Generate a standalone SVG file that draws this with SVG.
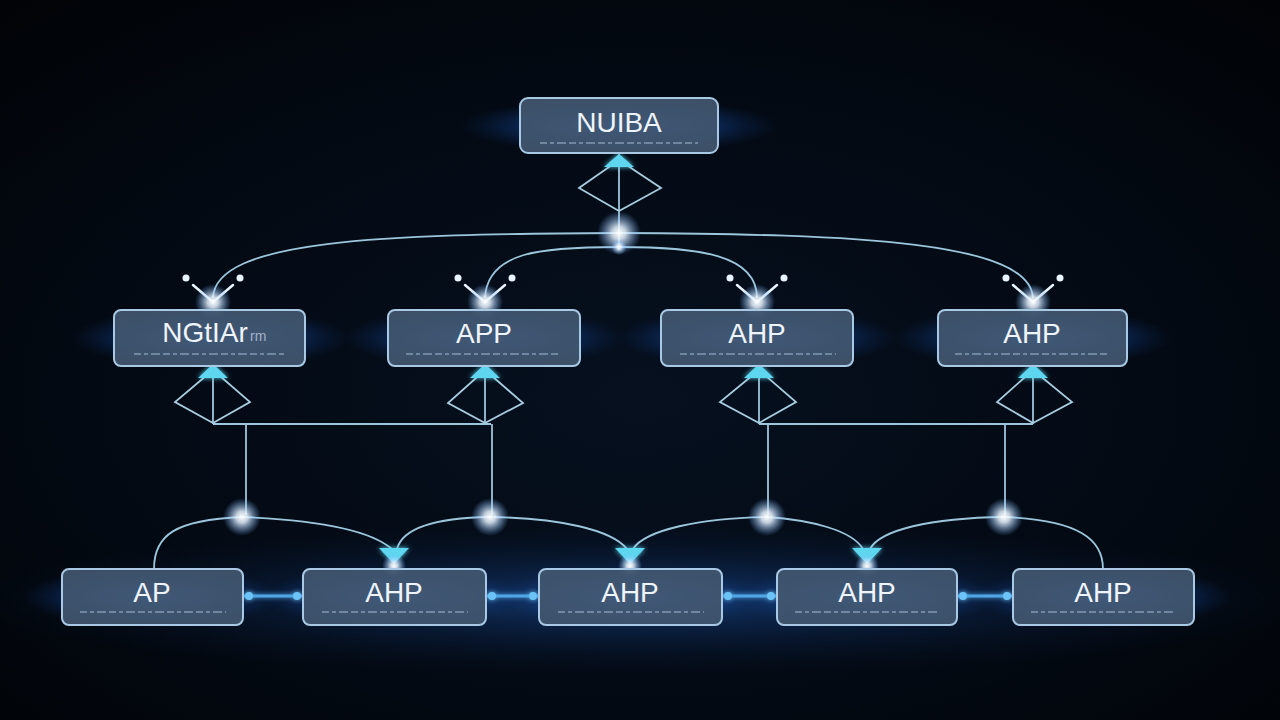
<svg xmlns="http://www.w3.org/2000/svg" width="1280" height="720" viewBox="0 0 1280 720">
<defs>
  <radialGradient id="bg" cx="50%" cy="55%" r="75%">
    <stop offset="0" stop-color="#06101f"/>
    <stop offset="0.6" stop-color="#030912"/>
    <stop offset="1" stop-color="#010306"/>
  </radialGradient>
  <radialGradient id="horizon" cx="50%" cy="50%" r="50%">
    <stop offset="0" stop-color="#1d56aa" stop-opacity="0.6"/>
    <stop offset="1" stop-color="#0a1f45" stop-opacity="0"/>
  </radialGradient>
  <radialGradient id="flare" cx="50%" cy="50%" r="50%">
    <stop offset="0" stop-color="#ffffff" stop-opacity="1"/>
    <stop offset="0.3" stop-color="#e6f3ff" stop-opacity="0.85"/>
    <stop offset="1" stop-color="#6fb0ff" stop-opacity="0"/>
  </radialGradient>
  <radialGradient id="sideglow" cx="50%" cy="50%" r="50%">
    <stop offset="0" stop-color="#3a8cf0" stop-opacity="0.95"/>
    <stop offset="0.5" stop-color="#1d5fc8" stop-opacity="0.45"/>
    <stop offset="1" stop-color="#0d3a8a" stop-opacity="0"/>
  </radialGradient>
  <filter id="glow" x="-50%" y="-50%" width="200%" height="200%">
    <feGaussianBlur stdDeviation="2.5" result="b"/>
    <feMerge><feMergeNode in="b"/><feMergeNode in="SourceGraphic"/></feMerge>
  </filter>
  <style>
    .node{fill:#42566f;fill-opacity:0.93;stroke:#a8c8e4;stroke-width:2}
    .lbl{font-family:"Liberation Sans","DejaVu Sans",sans-serif;font-size:28px;fill:#eef4fb;text-anchor:middle}
    .sub{stroke:#9cb4cc;stroke-width:2;stroke-dasharray:7 3 4 3 9 3;opacity:0.55}
    .wire{fill:none;stroke:#9cc6dc;stroke-width:1.8}
    .dia{fill:none;stroke:#a9cde0;stroke-width:1.8}
    .tri{fill:#5ed6f0}
    .vee{stroke:#e8f4ff;stroke-width:2.5;stroke-linecap:round}
    .dot{fill:#e8f4ff}
    .link{stroke:#4fa6e8;stroke-width:3}
    .ldot{fill:#6cc3f5}
  </style>
</defs>

<rect width="1280" height="720" fill="url(#bg)"/>
<ellipse cx="640" cy="600" rx="680" ry="75" fill="url(#horizon)"/>

<!-- side glows -->
<g id="glows">
  <ellipse cx="619" cy="126" rx="160" ry="28" fill="url(#sideglow)"/>
  <ellipse cx="210" cy="338" rx="140" ry="30" fill="url(#sideglow)"/>
  <ellipse cx="484" cy="338" rx="140" ry="30" fill="url(#sideglow)"/>
  <ellipse cx="757" cy="338" rx="140" ry="30" fill="url(#sideglow)"/>
  <ellipse cx="1033" cy="338" rx="140" ry="30" fill="url(#sideglow)"/>
  <ellipse cx="152" cy="597" rx="130" ry="30" fill="url(#sideglow)"/>
  <ellipse cx="394" cy="597" rx="130" ry="30" fill="url(#sideglow)"/>
  <ellipse cx="630" cy="597" rx="130" ry="30" fill="url(#sideglow)"/>
  <ellipse cx="867" cy="597" rx="130" ry="30" fill="url(#sideglow)"/>
  <ellipse cx="1103" cy="597" rx="130" ry="30" fill="url(#sideglow)"/>
</g>

<g id="connectors">
  <!-- top -->
  <line class="wire" x1="619" y1="153" x2="619" y2="250"/>
  <path class="dia" d="M619,160 L661,188 L619,211 L579,188 Z"/>
  <path class="wire" d="M619,233 C380,234 215,240 213,298"/>
  <path class="wire" d="M619,233 C860,234 1030,242 1033,298"/>
  <path class="wire" d="M619,247 C540,247 487,252 485,298"/>
  <path class="wire" d="M619,247 C700,247 757,255 757,298"/>
  <!-- V shapes -->
  <g>
    <line class="vee" x1="213" y1="302" x2="193" y2="285"/><line class="vee" x1="213" y1="302" x2="233" y2="285"/>
    <circle class="dot" cx="186" cy="278" r="3.5"/><circle class="dot" cx="240" cy="278" r="3.5"/>
    <line class="vee" x1="485" y1="302" x2="465" y2="285"/><line class="vee" x1="485" y1="302" x2="505" y2="285"/>
    <circle class="dot" cx="458" cy="278" r="3.5"/><circle class="dot" cx="512" cy="278" r="3.5"/>
    <line class="vee" x1="757" y1="302" x2="737" y2="285"/><line class="vee" x1="757" y1="302" x2="777" y2="285"/>
    <circle class="dot" cx="730" cy="278" r="3.5"/><circle class="dot" cx="784" cy="278" r="3.5"/>
    <line class="vee" x1="1033" y1="302" x2="1013" y2="285"/><line class="vee" x1="1033" y1="302" x2="1053" y2="285"/>
    <circle class="dot" cx="1006" cy="278" r="3.5"/><circle class="dot" cx="1060" cy="278" r="3.5"/>
  </g>
  <!-- middle diamonds -->
  <line class="wire" x1="213" y1="366" x2="213" y2="424"/>
  <path class="dia" d="M213,370 L250,402 L213,423 L175,402 Z"/>
  <line class="wire" x1="485" y1="366" x2="485" y2="424"/>
  <path class="dia" d="M485,370 L523,403 L485,423 L448,403 Z"/>
  <line class="wire" x1="759" y1="366" x2="759" y2="424"/>
  <path class="dia" d="M759,370 L796,402 L759,423 L720,402 Z"/>
  <line class="wire" x1="1033" y1="366" x2="1033" y2="424"/>
  <path class="dia" d="M1033,370 L1072,402 L1033,423 L997,402 Z"/>
  <line class="wire" x1="213" y1="424" x2="491" y2="424"/>
  <line class="wire" x1="759" y1="424" x2="1033" y2="424"/>
  <line class="wire" x1="246" y1="424" x2="246" y2="515"/>
  <line class="wire" x1="492" y1="424" x2="492" y2="515"/>
  <line class="wire" x1="768" y1="424" x2="768" y2="515"/>
  <line class="wire" x1="1005" y1="424" x2="1005" y2="515"/>
  <!-- bottom curves -->
  <path class="wire" d="M242,517 C175,520 154,535 154,569"/>
  <path class="wire" d="M242,517 C320,520 370,530 392,549"/>
  <path class="wire" d="M490,517 C430,518 402,530 397,549"/>
  <path class="wire" d="M490,517 C560,518 612,530 627,549"/>
  <path class="wire" d="M767,517 C700,518 645,530 633,549"/>
  <path class="wire" d="M767,517 C810,520 852,530 863,549"/>
  <path class="wire" d="M1004,517 C930,518 880,530 870,549"/>
  <path class="wire" d="M1004,517 C1080,520 1103,540 1103,569"/>
  <!-- bottom links -->
  <g filter="url(#glow)">
    <line class="link" x1="243" y1="596" x2="303" y2="596"/>
    <line class="link" x1="486" y1="596" x2="539" y2="596"/>
    <line class="link" x1="722" y1="596" x2="777" y2="596"/>
    <line class="link" x1="957" y1="596" x2="1013" y2="596"/>
    <circle class="ldot" cx="249" cy="596" r="4"/><circle class="ldot" cx="297" cy="596" r="4"/>
    <circle class="ldot" cx="492" cy="596" r="4"/><circle class="ldot" cx="533" cy="596" r="4"/>
    <circle class="ldot" cx="728" cy="596" r="4"/><circle class="ldot" cx="771" cy="596" r="4"/>
    <circle class="ldot" cx="963" cy="596" r="4"/><circle class="ldot" cx="1007" cy="596" r="4"/>
  </g>
  <!-- triangles -->
  <g filter="url(#glow)">
    <polygon class="tri" points="619,154 634,167 604,167"/>
    <polygon class="tri" points="213,364 228,378 198,378"/>
    <polygon class="tri" points="485,364 500,378 470,378"/>
    <polygon class="tri" points="759,364 774,378 744,378"/>
    <polygon class="tri" points="1033,364 1048,378 1018,378"/>
    <polygon class="tri" points="379,548 409,548 394,564"/>
    <polygon class="tri" points="615,548 645,548 630,564"/>
    <polygon class="tri" points="852,548 882,548 867,564"/>
  </g>
</g>

<!-- flares -->
<g id="flares">
  <circle cx="619" cy="233" r="22" fill="url(#flare)"/>
  <circle cx="619" cy="247" r="8" fill="url(#flare)"/>
  <circle cx="213" cy="302" r="18" fill="url(#flare)"/>
  <circle cx="485" cy="302" r="18" fill="url(#flare)"/>
  <circle cx="757" cy="302" r="18" fill="url(#flare)"/>
  <circle cx="1033" cy="302" r="18" fill="url(#flare)"/>
  <circle cx="242" cy="517" r="19" fill="url(#flare)"/>
  <circle cx="490" cy="517" r="19" fill="url(#flare)"/>
  <circle cx="767" cy="517" r="19" fill="url(#flare)"/>
  <circle cx="1004" cy="517" r="19" fill="url(#flare)"/>
  <circle cx="394" cy="566" r="12" fill="url(#flare)"/>
  <circle cx="630" cy="566" r="12" fill="url(#flare)"/>
  <circle cx="867" cy="566" r="12" fill="url(#flare)"/>
</g>

<g id="node-top">
  <rect class="node" x="520" y="98" width="198" height="55" rx="8"/>
  <text class="lbl" x="619" y="132" font-size="24">NUIBA</text>
  <line class="sub" x1="540" y1="143" x2="698" y2="143"/>
</g>

<g id="node-m1">
  <rect class="node" x="114" y="310" width="191" height="56" rx="7"/>
  <text class="lbl" x="205" y="342" font-size="22">NGtIAr</text>
  <text x="250" y="341" font-family="Liberation Sans, DejaVu Sans, sans-serif" font-size="14" fill="#c8d6e6" fill-opacity="0.75">rm</text>
  <line class="sub" x1="134" y1="354" x2="284" y2="354"/>
</g>
<g id="node-m2">
  <rect class="node" x="388" y="310" width="192" height="56" rx="7"/>
  <text class="lbl" x="484" y="343">APP</text>
  <line class="sub" x1="406" y1="354" x2="560" y2="354"/>
</g>
<g id="node-m3">
  <rect class="node" x="661" y="310" width="192" height="56" rx="7"/>
  <text class="lbl" x="757" y="343">AHP</text>
  <line class="sub" x1="680" y1="354" x2="836" y2="354"/>
</g>
<g id="node-m4">
  <rect class="node" x="938" y="310" width="189" height="56" rx="7"/>
  <text class="lbl" x="1032" y="343">AHP</text>
  <line class="sub" x1="955" y1="354" x2="1110" y2="354"/>
</g>

<g id="node-b1">
  <rect class="node" x="62" y="569" width="181" height="56" rx="7"/>
  <text class="lbl" x="152" y="602">AP</text>
  <line class="sub" x1="80" y1="612" x2="226" y2="612"/>
</g>
<g id="node-b2">
  <rect class="node" x="303" y="569" width="183" height="56" rx="7"/>
  <text class="lbl" x="394" y="602">AHP</text>
  <line class="sub" x1="322" y1="612" x2="468" y2="612"/>
</g>
<g id="node-b3">
  <rect class="node" x="539" y="569" width="183" height="56" rx="7"/>
  <text class="lbl" x="630" y="602">AHP</text>
  <line class="sub" x1="558" y1="612" x2="704" y2="612"/>
</g>
<g id="node-b4">
  <rect class="node" x="777" y="569" width="180" height="56" rx="7"/>
  <text class="lbl" x="867" y="602">AHP</text>
  <line class="sub" x1="795" y1="612" x2="940" y2="612"/>
</g>
<g id="node-b5">
  <rect class="node" x="1013" y="569" width="181" height="56" rx="7"/>
  <text class="lbl" x="1103" y="602">AHP</text>
  <line class="sub" x1="1031" y1="612" x2="1176" y2="612"/>
</g>
</svg>
